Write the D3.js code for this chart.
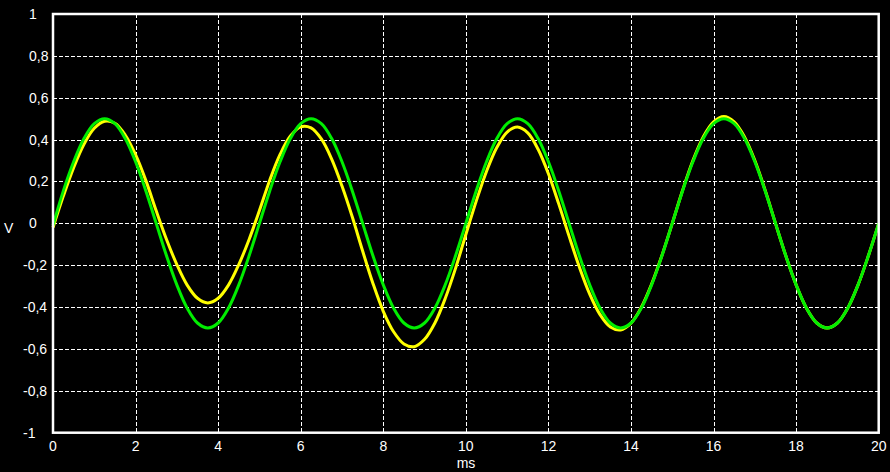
<!DOCTYPE html>
<html>
<head>
<meta charset="utf-8">
<script src="https://cdn.jsdelivr.net/npm/d3@7/dist/d3.min.js"></script>
<style>
  html, body { margin: 0; padding: 0; background: #000; }
  svg { display: block; }
  text { font-family: "Liberation Sans Narrow", "Liberation Sans", sans-serif; fill: #fff; }
</style>
</head>
<body>
<svg id="chart" width="890" height="472"></svg>
<script>
// time axis (ms), sampled every 0.25 ms
const timeMs = d3.range(0, 81).map(i => i * 0.25);

// green trace (V)
const greenValues = [
  -0.01, 0.155, 0.294, 0.405, 0.476, 0.5, 0.476, 0.405, 0.294, 0.155,
  0, -0.155, -0.294, -0.405, -0.476, -0.5, -0.476, -0.405, -0.294, -0.155,
  0, 0.155, 0.294, 0.405, 0.476, 0.5, 0.476, 0.405, 0.294, 0.155,
  0, -0.155, -0.294, -0.405, -0.476, -0.5, -0.476, -0.405, -0.294, -0.155,
  0, 0.155, 0.294, 0.405, 0.476, 0.5, 0.476, 0.405, 0.294, 0.155,
  0, -0.155, -0.294, -0.405, -0.476, -0.5, -0.476, -0.405, -0.294, -0.155,
  0, 0.155, 0.294, 0.405, 0.476, 0.5, 0.476, 0.405, 0.294, 0.155,
  0, -0.155, -0.294, -0.405, -0.476, -0.5, -0.476, -0.405, -0.294, -0.155,
  0
];

// yellow trace (V)
const yellowValues = [
  -0.02, 0.130, 0.266, 0.378, 0.454, 0.488, 0.478, 0.422, 0.328, 0.204,
  0.060, -0.077, -0.197, -0.295, -0.358, -0.380, -0.358, -0.295, -0.197, -0.077,
  0.061, 0.206, 0.329, 0.417, 0.461, 0.456, 0.403, 0.307, 0.178, 0.030,
  -0.132, -0.287, -0.420, -0.518, -0.576, -0.589, -0.554, -0.476, -0.359, -0.215,
  -0.053, 0.105, 0.248, 0.362, 0.436, 0.460, 0.432, 0.354, 0.237, 0.093,
  -0.061, -0.209, -0.338, -0.436, -0.495, -0.509, -0.477, -0.401, -0.290, -0.153,
  0, 0.158, 0.300, 0.413, 0.485, 0.510, 0.485, 0.413, 0.300, 0.158,
  0, -0.155, -0.294, -0.405, -0.476, -0.5, -0.476, -0.405, -0.294, -0.155,
  0
];

const xTicks = [0, 2, 4, 6, 8, 10, 12, 14, 16, 18, 20];
const yTicks = [-1, -0.8, -0.6, -0.4, -0.2, 0, 0.2, 0.4, 0.6, 0.8, 1];
const xTitle = "ms";
const yTitle = "V";

const fmt = v => (Math.round(v * 10) / 10).toString().replace(".", ",");

const svg = d3.select("#chart");
const pL = 53, pR = 878.7, pT = 14, pB = 432.7;

const x = d3.scaleLinear().domain([0, 20]).range([pL, pR]);
const y = d3.scaleLinear().domain([-1, 1]).range([pB, pT]);

svg.append("rect").attr("width", 890).attr("height", 472).attr("fill", "#000");

// grid
const grid = svg.append("g").attr("stroke", "#fff").attr("stroke-width", 1)
  .attr("stroke-dasharray", "4,2").attr("shape-rendering", "crispEdges");
grid.selectAll("line.v").data(xTicks.slice(1, -1)).join("line").attr("class", "v")
  .attr("x1", d => Math.round(x(d)) + 0.5).attr("x2", d => Math.round(x(d)) + 0.5)
  .attr("y1", pT).attr("y2", pB);
grid.selectAll("line.h").data(yTicks.slice(1, -1)).join("line").attr("class", "h")
  .attr("y1", d => Math.round(y(d)) + 0.5).attr("y2", d => Math.round(y(d)) + 0.5)
  .attr("x1", pL).attr("x2", pR);

// traces
const line = vals => d3.line()
  .x((d, i) => x(timeMs[i]))
  .y(d => y(d))
  .curve(d3.curveCatmullRom)(vals);

svg.append("path").attr("d", line(yellowValues))
  .attr("fill", "none").attr("stroke", "#ffff00").attr("stroke-width", 3)
  .attr("stroke-linejoin", "round");
svg.append("path").attr("d", line(greenValues))
  .attr("fill", "none").attr("stroke", "#00ee00").attr("stroke-width", 3)
  .attr("stroke-linejoin", "round");

// frame
svg.append("rect").attr("x", pL).attr("y", pT)
  .attr("width", pR - pL).attr("height", pB - pT)
  .attr("fill", "none").attr("stroke", "#fff").attr("stroke-width", 2.5);

// y tick labels
svg.append("g").selectAll("text").data(yTicks).join("text")
  .attr("x", d => d < 0 ? 23 : 29)
  .attr("y", d => y(d) + 5)
  .attr("font-size", 14)
  .attr("text-anchor", "start")
  .text(d => fmt(d));

// x tick labels
svg.append("g").selectAll("text").data(xTicks).join("text")
  .attr("x", d => x(d))
  .attr("y", 451)
  .attr("font-size", 14)
  .attr("text-anchor", "middle")
  .text(d => fmt(d));

svg.append("text").attr("x", 466).attr("y", 468).attr("font-size", 14)
  .attr("text-anchor", "middle").text(xTitle);
svg.append("text").attr("x", 4).attr("y", 233).attr("font-size", 14)
  .attr("text-anchor", "start").text(yTitle);
</script>
</body>
</html>
